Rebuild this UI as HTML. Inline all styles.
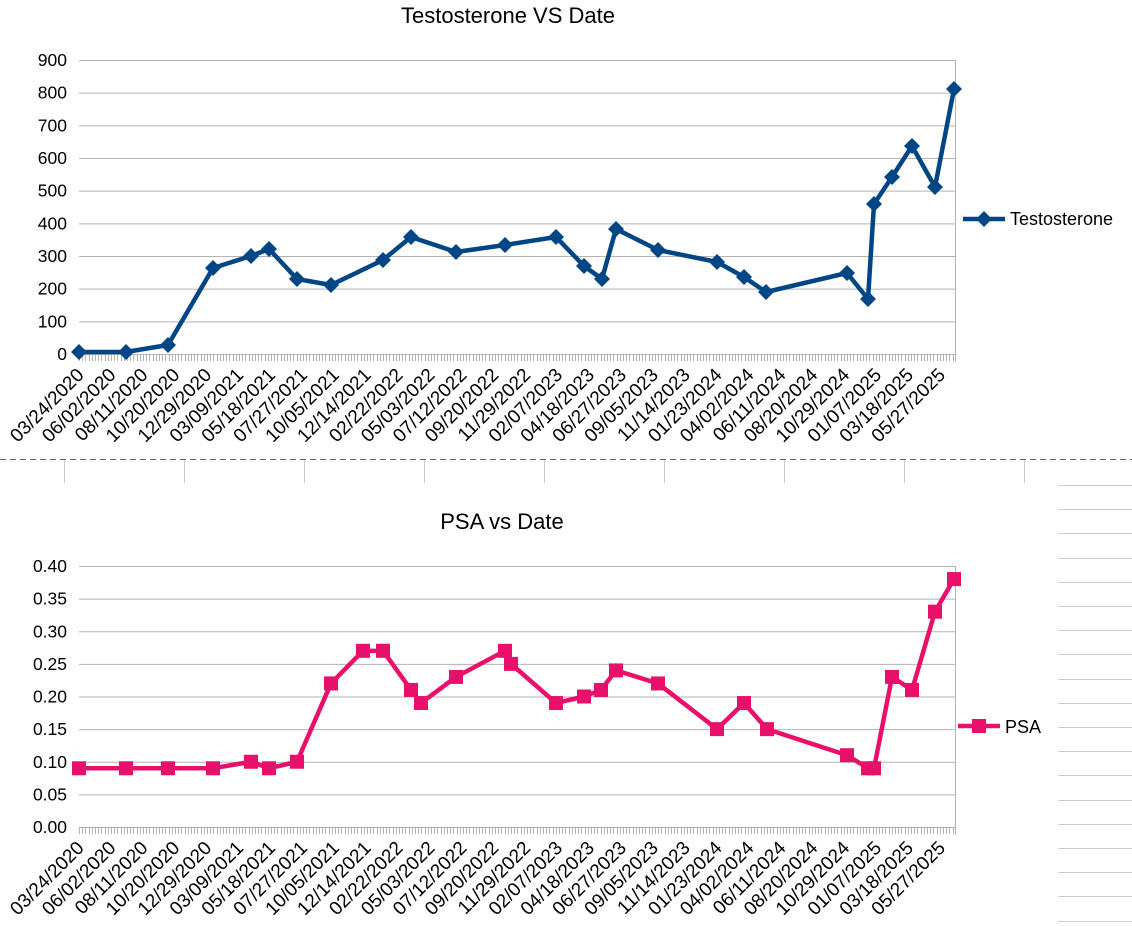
<!DOCTYPE html>
<html><head><meta charset="utf-8"><style>
html,body{margin:0;padding:0;background:#fff;}
svg{display:block;font-family:"Liberation Sans",sans-serif;}
</style></head><body>
<svg id="s" width="1132" height="926" xmlns="http://www.w3.org/2000/svg">
<text x="508" y="23" font-size="22" text-anchor="middle">Testosterone VS Date</text>
<text x="502" y="529" font-size="22" text-anchor="middle">PSA vs Date</text>
<line x1="0" y1="459.5" x2="1132" y2="459.5" stroke="#666" stroke-dasharray="6,4"/>
<g id="g"></g>
</svg>
<script>
var g=document.getElementById('g'),h='';
function L(x1,y1,x2,y2,c,w){h+='<line x1="'+x1+'" y1="'+y1+'" x2="'+x2+'" y2="'+y2+'" stroke="'+c+'" stroke-width="'+(w||1)+'"/>';}
function T(x,y,t,a,s,tr){h+='<text x="'+x+'" y="'+y+'" font-size="'+(s||16)+'" text-anchor="'+(a||'end')+'"'+(tr?' transform="'+tr+'"':'')+'>'+t+'</text>';}
[64,184,304,424,544,664,784,904,1024].forEach(function(x){L(x+.5,460,x+.5,483,'#ccc');});
for(var y=485;y<925;y+=24.2){L(1058,Math.round(y)+.5,1132,Math.round(y)+.5,'#ccc');}
var labels=["03/24/2020","06/02/2020","08/11/2020","10/20/2020","12/29/2020","03/09/2021","05/18/2021","07/27/2021","10/05/2021","12/14/2021","02/22/2022","05/03/2022","07/12/2022","09/20/2022","11/29/2022","02/07/2023","04/18/2023","06/27/2023","09/05/2023","11/14/2023","01/23/2024","04/02/2024","06/11/2024","08/20/2024","10/29/2024","01/07/2025","03/18/2025","05/27/2025"];
function chart(top,bot,n,fmt,step){
  for(var i=0;i<=n;i++){var y=bot-(bot-top)*i/n;L(79,y+.5,955,y+.5,'#b3b3b3');T(67,y+6,fmt(i*step),'end',17.5);}
  L(955.5,top,955.5,bot+8,'#b3b3b3');
  for(var x=79;x<=955;x+=3.2){L(Math.round(x)+.5,bot,Math.round(x)+.5,bot+7,'#b3b3b3');}
  labels.forEach(function(t,i){var x=79+i*31.9+6,yy=bot+22;T(x,yy,t,'end',19,'rotate(-45 '+x+' '+yy+')');});
}
chart(60,354,9,function(v){return v;},100);
chart(566,827,8,function(v){return v.toFixed(2);},0.05);
var tp=[[79,352],[126,352],[168,345],[213,268],[251,256],[269,249],[297,279],[331,285],[383,260],[411,237],[456,252],[505,245],[556,237],[584,266],[602,279],[616,229],[658,250],[717,262],[744,277],[766,292],[847,273],[868,299],[874,204],[892,177],[912,146],[935,187],[954,89]];
var c1='#004586';
h+='<polyline fill="none" stroke="'+c1+'" stroke-width="4.5" stroke-linejoin="round" points="'+tp.map(function(p){return p.join(',');}).join(' ')+'"/>';
function dia(x,y,c){h+='<polygon fill="'+c+'" points="'+x+','+(y-8)+' '+(x+8)+','+y+' '+x+','+(y+8)+' '+(x-8)+','+y+'"/>';}
tp.forEach(function(p){dia(p[0],p[1],c1);});
L(963,219,1005,219,c1,4.5);dia(984,219,c1);T(1010,225,'Testosterone','start',18);
var pv=[[79,.09],[126,.09],[168,.09],[213,.09],[251,.10],[269,.09],[297,.10],[331,.22],[363,.27],[383,.27],[411,.21],[421,.19],[456,.23],[505,.27],[511,.25],[556,.19],[584,.20],[601,.21],[616,.24],[658,.22],[717,.15],[744,.19],[767,.15],[847,.11],[868,.09],[874,.09],[892,.23],[912,.21],[935,.33],[954,.38]];
var c2b='#e8106a';
var pp=pv.map(function(p){return [p[0],827-p[1]*652.5];});
h+='<polyline fill="none" stroke="'+c2b+'" stroke-width="4.5" stroke-linejoin="round" points="'+pp.map(function(p){return p.join(',');}).join(' ')+'"/>';
function sq(x,y){h+='<rect fill="'+c2b+'" x="'+(x-7)+'" y="'+(y-7)+'" width="14" height="14"/>';}
pp.forEach(function(p){sq(p[0],p[1]);});
L(958,726,1000,726,c2b,4.5);sq(979,726);T(1005,733,'PSA','start',18);
g.innerHTML=h;
</script>
</body></html>
